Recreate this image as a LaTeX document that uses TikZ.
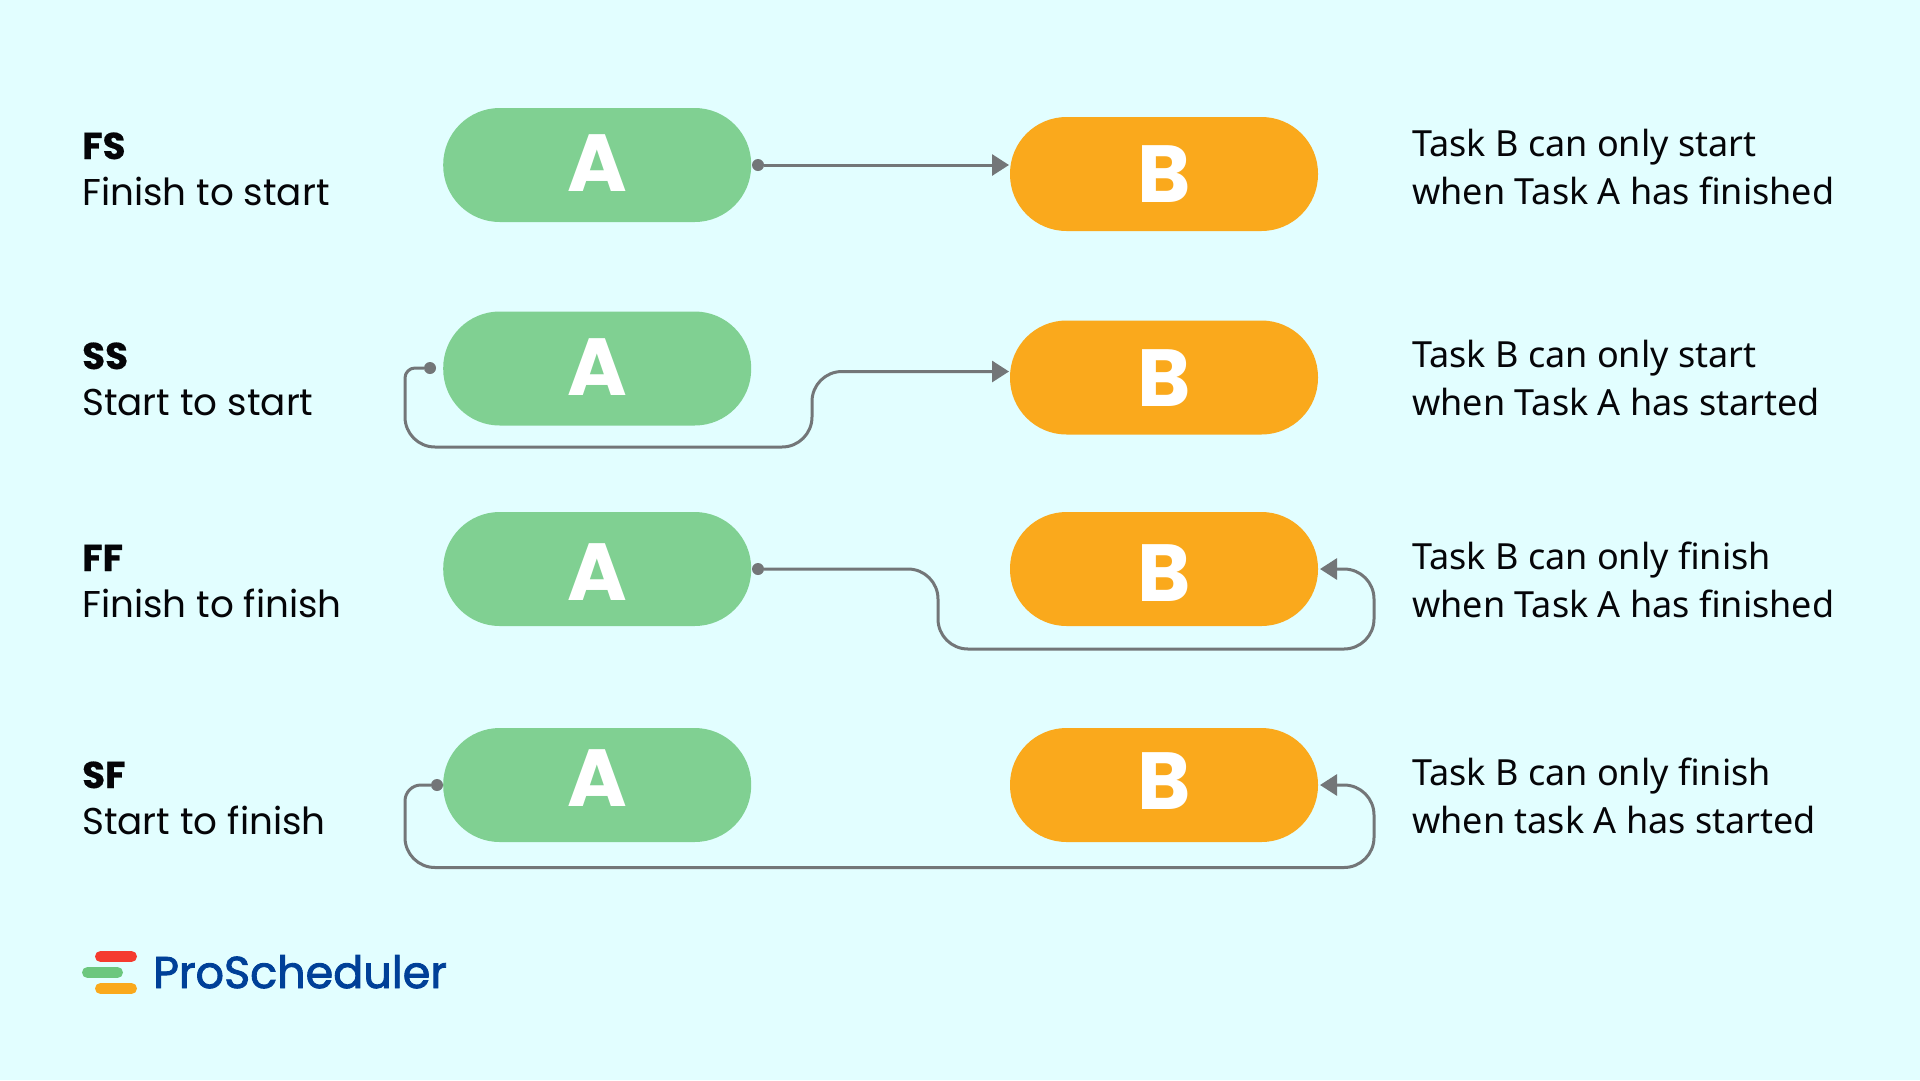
\documentclass[tikz,border=0pt]{standalone}
\usepackage{fontspec}
\usetikzlibrary{arrows.meta}
\setmainfont{Poppins}[BoldFeatures={FakeBold=0.5}]
\newfontfamily\pillfont{Poppins}
\newfontfamily\descfont{Noto Sans}
\newfontfamily\logofont{Poppins}[FakeBold=2]
\newcommand\plet[2]{\raisebox{#1}[56pt][0pt]{#2}}
\definecolor{bgc}{HTML}{E2FEFF}
\definecolor{greenc}{HTML}{80D092}
\definecolor{orangec}{HTML}{FAA91C}
\definecolor{linec}{HTML}{737678}
\definecolor{inkc}{HTML}{050508}
\definecolor{logoc}{HTML}{004098}
\definecolor{redbar}{HTML}{F53B2F}
\definecolor{greenbar}{HTML}{6CC77E}
\tikzset{
  pill/.style={rectangle,rounded corners=56.5pt,minimum width=308pt,minimum height=114pt,inner sep=0pt,text=white,font=\pillfont\fontsize{81}{81}\selectfont\bfseries},
  pilla/.style={pill,fill=greenc},
  pillb/.style={pill,fill=orangec},
  dotn/.style={circle,fill=linec,minimum size=12pt,inner sep=0pt},
  conn/.style={draw=linec,line width=3pt,-{Triangle[length=17pt,width=21pt]}},
  lefttext/.style={anchor=base west,inner sep=0pt,align=left,text=inkc,font=\fontsize{37.3}{46}\selectfont},
  righttext/.style={anchor=base west,inner sep=0pt,align=left,text=inkc,font=\descfont\fontsize{36}{47.5}\selectfont},
  bar/.style={line width=11pt,line cap=round}
}
\begin{document}
\begin{tikzpicture}[x=1pt,y=-1pt]
\useasboundingbox (0,0) rectangle (1920,1080);
\fill[bgc] (0,0) rectangle (1920,1080);
% pills
\node[pilla] (a1) at (597.2,165) {\plet{2pt}{A}};
\node[pilla] (a2) at (597.2,368.5) {\plet{1.5pt}{A}};
\node[pilla] (a3) at (597.2,569) {\plet{-3pt}{A}};
\node[pilla] (a4) at (597.2,785) {\plet{6.3pt}{A}};
\node[pillb] (b1) at (1164,174) {\plet{-0.7pt}{B}};
\node[pillb] (b2) at (1164,377.5) {\plet{-0.5pt}{B}};
\node[pillb] (b3) at (1164,569) {\plet{-4.7pt}{B}};
\node[pillb] (b4) at (1164,785) {\plet{4pt}{B}};
% dots
\node[dotn] (d1) at (758,165) {};
\node[dotn] (d2) at (430,368) {};
\node[dotn] (d3) at (758,569) {};
\node[dotn] (d4) at (437,785) {};
% arrow ends
\coordinate (e1) at (1009,165);
\coordinate (e2) at (1009,371.5);
\coordinate (e3) at (1320,569);
\coordinate (e4) at (1320,785);
% connectors
\draw[conn] (d1) -- (e1);
\draw[conn,rounded corners=10pt] (d2) -- (405,368) [rounded corners=30pt] -- (405,447) -- (812,447) -- (812,371.5) -- (e2);
\draw[conn,rounded corners=30pt] (d3) -- (938,569) -- (938,649) -- (1374,649) -- (1374,569) -- (e3);
\draw[conn,rounded corners=16pt] (d4) -- (405,785) [rounded corners=30pt] -- (405,867.5) -- (1374,867.5) -- (1374,785) -- (e4);
% left labels
\node[lefttext] (l1) at (82,205) {\textbf{FS}\\Finish to start};
\node[lefttext] (l2) at (82,415) {\textbf{SS}\\Start to start};
\node[lefttext] (l3) at (82,617) {\textbf{FF}\\Finish to finish};
\node[lefttext] (l4) at (82,834) {\textbf{SF}\\Start to finish};
% right labels
\node[righttext] (r1) at (1412,204) {Task B can only start\\when Task A has finished};
\node[righttext] (r2) at (1412,415) {Task B can only start\\when Task A has started};
\node[righttext] (r3) at (1412,617) {Task B can only finish\\when Task A has finished};
\node[righttext] (r4) at (1412,833) {Task B can only finish\\when task A has started};
% logo
\draw[bar,redbar] (100.5,956.5) -- (131.5,956.5);
\draw[bar,greenbar] (87.5,972.5) -- (117.5,972.5);
\draw[bar,orangec] (100.5,988.5) -- (131.5,988.5);
\node[anchor=base west,inner sep=0pt,text=logoc,font=\logofont\fontsize{44.5}{44.5}\selectfont] (logo) at (153,988) {ProScheduler};
\end{tikzpicture}
\end{document}
